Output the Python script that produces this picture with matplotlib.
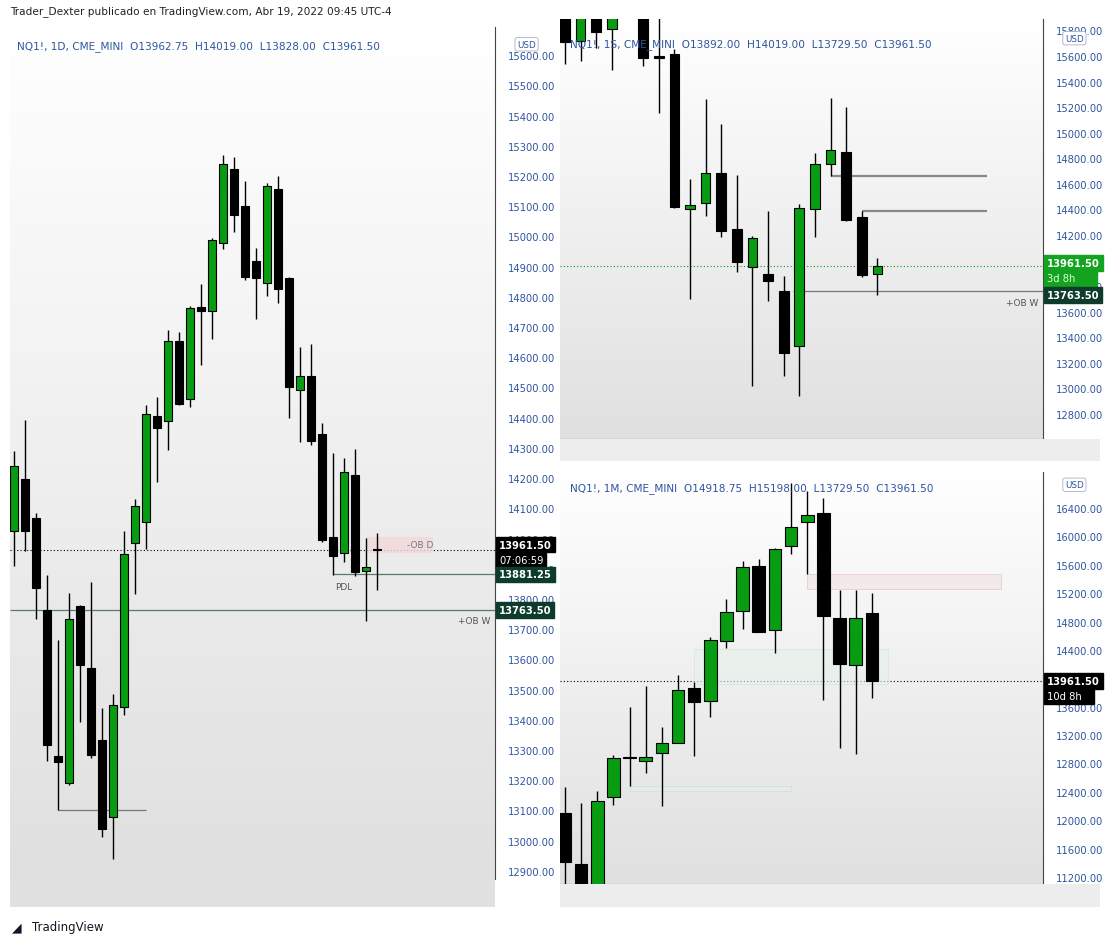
import matplotlib
matplotlib.use("Agg")
import matplotlib.pyplot as plt
import numpy as np
from matplotlib.patches import Rectangle
from matplotlib.colors import LinearSegmentedColormap

# ---------------- data ----------------
# Daily (index 0 = 2022-03-02)
d_open  = [14025,14197,14068,13763,13280,13191,13777,13572,13333,13079,13442,13985,14055,14405,14389,14654,14462,14766,14753,14978,
           15223,15100,14918,14846,15157,14862,14491,14538,14346,14005,13952,14210,13893,13962.75]
d_high  = [14290,14392,14084,13879,13664,13820,13780,13856,13439,13486,14025,14131,14442,14468,14690,14683,14770,14842,14995,15269,
           15262,15183,14961,15176,15200,14865,14634,14644,14382,14283,14266,14296,14002,14019]
d_low   = [13909,13959,13734,13264,13102,13185,13393,13274,13012,12940,13416,13816,13965,14187,14293,14442,14435,14574,14660,14958,
           15014,14855,14726,14803,14779,14399,14319,14309,13989,13879,13922,13876,13727,13828]
d_close = [14240,14025,13836,13317,13261,13734,13582,13284,13039,13449,13949,14108,14412,14366,14654,14445,14763,14753,14988,15239,
           15071,14865,14862,15167,14826,14501,14538,14323,13995,13942,14220,13889,13905,13961.5]
d_ticks = [8, 15, 22, 32, 42]
d_tick_labels = ["14", "23", "Abr", "18", "Mayo"]

# Weekly (index 0 = week of 2021-11-29)
w_open  = [15900,15717,15900,15811,16100,16000,15600,15616,14404,14450,14685,14247,13950,13895,13762,13332,14404,14755,14849,14341,13892]
w_high  = [16000,16050,16000,16100,16300,16100,16050,15655,14638,15264,15068,14670,14192,14388,13880,14443,14841,15272,15201,14388,14019]
w_low   = [15537,15561,15663,15490,15900,15522,15154,14412,13700,14349,14185,13911,13019,13684,13098,12941,14185,14662,14310,13872,13729.5]
w_close = [15709,15950,15788,16000,16200,15584,15585,14419,14435,14685,14231,13989,14177,13841,13277,14411,14755,14865,14318,13887,13961.5]
w_ticks = [5, 10, 18, 27]
w_tick_labels = ["2022", "Feb", "Abr", "Jun"]
w_level_1 = 14662
w_level_2 = 14385

# Monthly (index 0 = 2020-09)
m_open  = [12102,11384,11000,12328,12878,12835,12948,13089,13864,13681,14526,14949,15583,14681,15865,16203,16330,14850,14188,14918.75]
m_high  = [12469,12243,12413,12920,13596,13892,13314,14047,13948,14582,15118,15653,15681,15836,16750,16640,16541,15245,15245,15198]
m_low   = [11100,10900,10900,12215,12483,12666,12201,13089,12906,13455,14427,14695,14653,14357,15752,15470,13695,13019,12934,13729.5]
m_close = [11412,11000,12272,12878,12892,12897,13089,13836,13667,14540,14935,15569,14653,15822,16132,16301,14878,14202,14850,13961.5]
m_ticks = [4, 9, 16, 21, 28]
m_tick_labels = ["2021", "Jun", "2022", "Jun", "2023"]

last_price = 13961.5
pdl_level = 13881.25
obw_level = 13763.5

GREEN = "#089c13"
BLUE = "#2f55a0"
DKGREEN = "#0d3b2c"

fig = plt.figure(figsize=(11.13, 9.45), dpi=100)
fig.patch.set_facecolor("white")
W, H = 1113, 945

def frac(x0, y0, x1, y1):
    return [x0 / W, 1 - y1 / H, (x1 - x0) / W, (y1 - y0) / H]

grad = np.linspace(0, 1, 256).reshape(-1, 1)
cmap = LinearSegmentedColormap.from_list("g", ["#ffffff", "#e0e0e0"])

def strip(x0, y0, x1, y1, c="#e1e1e1"):
    a = fig.add_axes(frac(x0, y0, x1, y1))
    a.set_axis_off()
    a.add_patch(Rectangle((0, 0), 1, 1, transform=a.transAxes, color=c))
    return a

def setup(ax, ylim, xlim, yticks):
    ax.set_xlim(*xlim)
    ax.set_ylim(*ylim)
    ax.imshow(grad, aspect="auto", cmap=cmap, origin="upper", extent=[xlim[0], xlim[1], ylim[0], ylim[1]], zorder=0)
    ax.set_xlim(*xlim)
    ax.set_ylim(*ylim)
    ax.yaxis.tick_right()
    ax.set_yticks(yticks)
    ax.set_yticklabels([f"{v:.2f}" for v in yticks], color=BLUE, fontsize=7.2)
    ax.tick_params(axis="y", length=0, pad=9)
    ax.tick_params(axis="x", length=0, pad=6, labelsize=7.2, labelcolor=BLUE)
    for s in ["top", "left", "bottom"]:
        ax.spines[s].set_visible(False)
    ax.spines["right"].set_color("#444444")
    ax.spines["right"].set_linewidth(0.8)

def candles(ax, o, h, l, c, width):
    x = np.arange(len(o))
    o = np.array(o); c = np.array(c)
    up = c >= o
    cols = [GREEN if u else "black" for u in up]
    ax.vlines(x, l, h, color="black", lw=1, zorder=2)
    bottoms = np.minimum(o, c)
    heights = np.maximum(np.abs(c - o), 3)
    ax.bar(x, heights, bottom=bottoms, width=width, color=cols, edgecolor="black", lw=0.8, zorder=3)

def price_box(ax, y, txt, fc, tc="white", dy=0, bold=True):
    ax.annotate(txt, xy=(1, y), xycoords=("axes fraction", "data"), xytext=(3, dy), textcoords="offset points",
                ha="left", va="center", fontsize=7.2, fontweight="bold" if bold else "normal", color=tc,
                bbox=dict(boxstyle="square,pad=0.28", fc=fc, ec=fc), zorder=10, annotation_clip=False)

def usd(ax, yfrac):
    ax.text(1.065, yfrac, "USD", transform=ax.transAxes, fontsize=6.3, color=BLUE, va="top", ha="center",
            bbox=dict(boxstyle="round,pad=0.25", fc="white", ec="#aab0c0", lw=0.6), zorder=11)

# ---------------- left daily ----------------
ax1 = fig.add_axes(frac(10, 28, 495, 880))
strip(10, 880, 495, 908)
setup(ax1, (12873, 15693), (-0.36, 43.7), np.arange(12900, 15601, 100))
candles(ax1, d_open, d_high, d_low, d_close, 0.72)
ax1.set_xticks(d_ticks)
ax1.set_xticklabels(d_tick_labels)
ax1.tick_params(axis="x", pad=10)
ax1.axhline(last_price, color="black", lw=0.8, ls=(0, (1, 2)), zorder=1)
ax1.hlines(obw_level, -0.36, 43.7, color="#5a7a70", lw=0.9, zorder=1)
ax1.hlines(pdl_level, 29, 43.7, color="#5a7a70", lw=0.9, zorder=1)
ax1.hlines(d_low[4], 4, 12, color="#777777", lw=0.9, zorder=1)
ax1.add_patch(Rectangle((32, 13955), 6, 50, color="#f2d9dc", alpha=0.8, zorder=1))
ax1.text(36.9, 13980, "-OB D", fontsize=6.5, color="#777777", ha="center", va="center", zorder=4)
ax1.text(30, 13840, "PDL", fontsize=6.5, color="#555555", ha="center", va="center", zorder=4)
ax1.text(43.3, 13730, "+OB W", fontsize=6.5, color="#555555", ha="right", va="center", zorder=4)
ax1.text(0.015, 0.985, "NQ1!, 1D, CME_MINI  O13962.75  H14019.00  L13828.00  C13961.50", transform=ax1.transAxes,
         fontsize=7.6, color=BLUE, va="top", ha="left", zorder=10)
usd(ax1, 0.985)
price_box(ax1, last_price, "13961.50", "black", dy=4)
price_box(ax1, last_price, "07:06:59", "black", dy=-7, bold=False)
price_box(ax1, pdl_level, "13881.25", DKGREEN)
price_box(ax1, obw_level, "13763.50", DKGREEN)

# ---------------- top-right weekly ----------------
ax2 = fig.add_axes(frac(560, 20, 1043, 440))
strip(560, 440, 1100, 462, "#ededed")
setup(ax2, (12605, 15889), (-0.32, 30.6), np.arange(12800, 15801, 200))
ax2.spines["bottom"].set_visible(True)
ax2.spines["bottom"].set_color("#444444")
candles(ax2, w_open, w_high, w_low, w_close, 0.62)
ax2.set_xticks(w_ticks)
ax2.set_xticklabels(w_tick_labels)
ax2.axhline(last_price, color=GREEN, lw=0.8, ls=(0, (1, 2)), zorder=1)
ax2.hlines(obw_level, 14.6, 30.6, color="#777777", lw=0.9, zorder=1)
ax2.hlines(w_level_1, 17, 27, color="#888888", lw=1.6, zorder=1)
ax2.hlines(w_level_2, 19, 27, color="#888888", lw=1.6, zorder=1)
ax2.text(30.3, obw_level - 90, "+OB W", fontsize=6.5, color="#555555", ha="right", va="center", zorder=4)
ax2.text(0.02, 0.955, "NQ1!, 1S, CME_MINI  O13892.00  H14019.00  L13729.50  C13961.50", transform=ax2.transAxes,
         fontsize=7.6, color=BLUE, va="top", ha="left", zorder=10)
usd(ax2, 0.965)
price_box(ax2, last_price, "13961.50", "#13a31f", dy=2)
price_box(ax2, last_price, "3d 8h      ", "#13a31f", tc="#d8ffd8", dy=-9, bold=False)
price_box(ax2, obw_level, "13763.50", DKGREEN, dy=-3)

# ---------------- bottom-right monthly ----------------
ax3 = fig.add_axes(frac(560, 473, 1043, 885))
strip(560, 885, 1100, 908, "#ededed")
setup(ax3, (11102, 16907), (-0.31, 29.6), np.arange(11200, 16401, 400))
ax3.spines["bottom"].set_visible(True)
ax3.spines["bottom"].set_color("#444444")
candles(ax3, m_open, m_high, m_low, m_close, 0.78)
ax3.set_xticks(m_ticks)
ax3.set_xticklabels(m_tick_labels)
ax3.axhline(last_price, color="black", lw=0.8, ls=(0, (1, 2)), zorder=1)
ax3.add_patch(Rectangle((15, 15259), 12, 211, fc="#f3e6e6", ec="#e0c8c8", lw=0.6, alpha=0.8, zorder=1))
ax3.add_patch(Rectangle((8, 13920), 12, 493, fc="#e6f0ea", ec="#cfe0d6", lw=0.6, alpha=0.6, zorder=1))
ax3.add_patch(Rectangle((4, 12413), 10, 70, fc="#e3efe6", ec="#cfe0d6", lw=0.6, alpha=0.8, zorder=1))
ax3.text(0.02, 0.975, "NQ1!, 1M, CME_MINI  O14918.75  H15198.00  L13729.50  C13961.50", transform=ax3.transAxes,
         fontsize=7.6, color=BLUE, va="top", ha="left", zorder=10)
usd(ax3, 0.98)
price_box(ax3, last_price, "13961.50", "black", dy=0)
price_box(ax3, last_price, "10d 8h   ", "black", dy=-11, bold=False)

# ---------------- header / footer ----------------
fig.text(10 / W, 1 - 12 / H, "Trader_Dexter publicado en TradingView.com, Abr 19, 2022 09:45 UTC-4",
         fontsize=7.6, color="#222222", va="center", ha="left")
fig.text(12 / W, 1 - 928 / H, "◢", fontsize=9, color="#131722", va="center", ha="left")
fig.text(32 / W, 1 - 928 / H, "TradingView", fontsize=8.5, color="#131722", va="center", ha="left")

fig.savefig("out.png", dpi=100, facecolor="white")
